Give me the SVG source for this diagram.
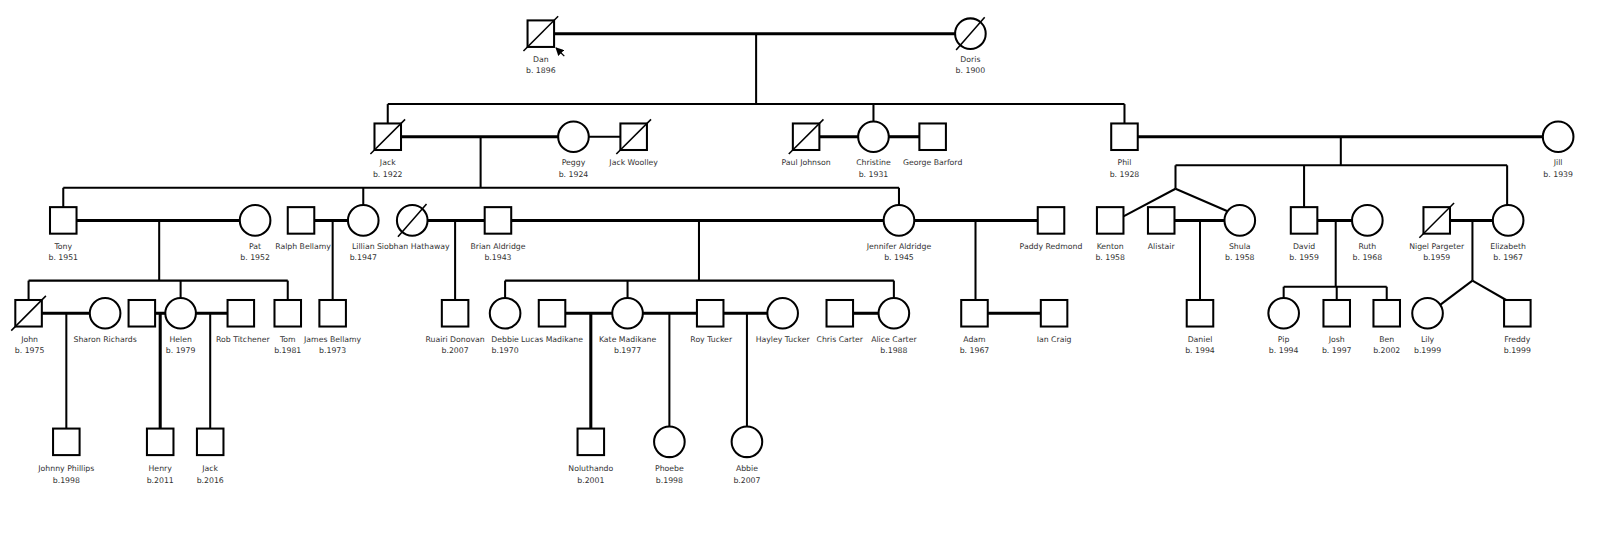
<svg xmlns="http://www.w3.org/2000/svg" width="1600" height="535" viewBox="0 0 1600 535">
<style>
.n rect,.n circle{fill:#fff;stroke:#000;stroke-width:2}
.n line{stroke:#000;stroke-width:1.5}
.n text{font-family:"DejaVu Sans",sans-serif;font-size:7.6px;fill:#333;text-anchor:middle}
#c line,#c polyline{stroke:#000;stroke-width:2;fill:none}
#c .k{stroke-width:3}
</style>
<defs><marker id="ah" markerWidth="8" markerHeight="8" refX="7" refY="4" orient="auto" markerUnits="userSpaceOnUse"><path d="M0,0 L8,4 L0,8 z" fill="#000"/></marker></defs>
<rect width="1600" height="535" fill="#fff"/>
<g transform="scale(1.0204)">
<g id="c">
<line class="k" x1="543" y1="33" x2="936" y2="33"/>
<line x1="741" y1="33" x2="741" y2="102"/>
<line x1="380" y1="102" x2="1102" y2="102"/>
<line x1="380" y1="102" x2="380" y2="121"/>
<line x1="1102" y1="102" x2="1102" y2="121"/>
<line x1="856" y1="102" x2="856" y2="119"/>
<line class="k" x1="393" y1="134" x2="547" y2="134"/>
<line x1="577" y1="134" x2="608" y2="134"/>
<line class="k" x1="803" y1="134" x2="841" y2="134"/>
<line class="k" x1="871" y1="134" x2="901" y2="134"/>
<line class="k" x1="1114" y1="134" x2="1512" y2="134"/>
<line x1="471" y1="134" x2="471" y2="184"/>
<line x1="62" y1="184" x2="881" y2="184"/>
<line x1="62" y1="184" x2="62" y2="203"/>
<line x1="356" y1="184" x2="356" y2="201"/>
<line x1="881" y1="184" x2="881" y2="201"/>
<line x1="1314" y1="134" x2="1314" y2="162"/>
<line x1="1152" y1="162" x2="1477" y2="162"/>
<line x1="1152" y1="162" x2="1152" y2="185"/>
<line x1="1152" y1="185" x2="1101" y2="212"/>
<line x1="1152" y1="185" x2="1203" y2="207"/>
<line x1="1278" y1="162" x2="1278" y2="203"/>
<line x1="1477" y1="162" x2="1477" y2="201"/>
<line class="k" x1="74" y1="216" x2="235" y2="216"/>
<line class="k" x1="308" y1="216" x2="341" y2="216"/>
<line class="k" x1="419" y1="216" x2="475" y2="216"/>
<line class="k" x1="501" y1="216" x2="866" y2="216"/>
<line class="k" x1="896" y1="216" x2="1017" y2="216"/>
<line class="k" x1="1151" y1="216" x2="1200" y2="216"/>
<line class="k" x1="1291" y1="216" x2="1325" y2="216"/>
<line class="k" x1="1421" y1="216" x2="1463" y2="216"/>
<line x1="156" y1="216" x2="156" y2="275"/>
<line x1="28" y1="275" x2="282" y2="275"/>
<line x1="28" y1="275" x2="28" y2="294"/>
<line x1="177" y1="275" x2="177" y2="292"/>
<line x1="282" y1="275" x2="282" y2="294"/>
<line x1="326" y1="216" x2="326" y2="294"/>
<line x1="446" y1="216" x2="446" y2="294"/>
<line x1="685" y1="216" x2="685" y2="275"/>
<line x1="495" y1="275" x2="876" y2="275"/>
<line x1="495" y1="275" x2="495" y2="292"/>
<line x1="615" y1="275" x2="615" y2="292"/>
<line x1="876" y1="275" x2="876" y2="292"/>
<line x1="956" y1="216" x2="956" y2="294"/>
<line x1="1176" y1="216" x2="1176" y2="294"/>
<line x1="1309" y1="216" x2="1309" y2="281"/>
<line x1="1258" y1="281" x2="1359" y2="281"/>
<line x1="1258" y1="281" x2="1258" y2="292"/>
<line x1="1310" y1="281" x2="1310" y2="294"/>
<line x1="1359" y1="281" x2="1359" y2="294"/>
<line x1="1443" y1="216" x2="1443" y2="275"/>
<line x1="1443" y1="275" x2="1411" y2="299"/>
<line x1="1443" y1="275" x2="1476" y2="294"/>
<line class="k" x1="41" y1="307" x2="88" y2="307"/>
<line class="k" x1="152" y1="307" x2="162" y2="307"/>
<line class="k" x1="192" y1="307" x2="223" y2="307"/>
<line class="k" x1="554" y1="307" x2="600" y2="307"/>
<line class="k" x1="630" y1="307" x2="683" y2="307"/>
<line class="k" x1="709" y1="307" x2="752" y2="307"/>
<line class="k" x1="836" y1="307" x2="861" y2="307"/>
<line class="k" x1="968" y1="307" x2="1020" y2="307"/>
<line x1="65" y1="307" x2="65" y2="420"/>
<line class="k" x1="157" y1="307" x2="157" y2="420"/>
<line x1="206" y1="307" x2="206" y2="420"/>
<line class="k" x1="579" y1="307" x2="579" y2="420"/>
<line x1="656" y1="307" x2="656" y2="418"/>
<line x1="732" y1="307" x2="732" y2="418"/>
<line x1="553" y1="55" x2="545" y2="47" style="stroke-width:1.3" marker-end="url(#ah)"/>
</g>
<g id="dan" class="n"><rect x="517" y="20" width="26" height="26"/><line x1="513" y1="50" x2="547" y2="16"/><text x="530" y="61">Dan</text><text x="530" y="72">b. 1896</text></g>
<g id="doris" class="n"><circle cx="951" cy="33" r="15"/><line x1="937" y1="49" x2="965" y2="17"/><text x="951" y="61">Doris</text><text x="951" y="72">b. 1900</text></g>
<g id="jack1922" class="n"><rect x="367" y="121" width="26" height="26"/><line x1="363" y1="151" x2="397" y2="117"/><text x="380" y="162">Jack</text><text x="380" y="173">b. 1922</text></g>
<g id="peggy" class="n"><circle cx="562" cy="134" r="15"/><text x="562" y="162">Peggy</text><text x="562" y="173">b. 1924</text></g>
<g id="jackwoolley" class="n"><rect x="608" y="121" width="26" height="26"/><line x1="604" y1="151" x2="638" y2="117"/><text x="621" y="162">Jack Woolley</text></g>
<g id="pauljohnson" class="n"><rect x="777" y="121" width="26" height="26"/><line x1="773" y1="151" x2="807" y2="117"/><text x="790" y="162">Paul Johnson</text></g>
<g id="christine" class="n"><circle cx="856" cy="134" r="15"/><text x="856" y="162">Christine</text><text x="856" y="173">b. 1931</text></g>
<g id="georgebarford" class="n"><rect x="901" y="121" width="26" height="26"/><text x="914" y="162">George Barford</text></g>
<g id="phil" class="n"><rect x="1089" y="121" width="26" height="26"/><text x="1102" y="162">Phil</text><text x="1102" y="173">b. 1928</text></g>
<g id="jill" class="n"><circle cx="1527" cy="134" r="15"/><text x="1527" y="162">Jill</text><text x="1527" y="173">b. 1939</text></g>
<g id="tony" class="n"><rect x="49" y="203" width="26" height="26"/><text x="62" y="244">Tony</text><text x="62" y="255">b. 1951</text></g>
<g id="pat" class="n"><circle cx="250" cy="216" r="15"/><text x="250" y="244">Pat</text><text x="250" y="255">b. 1952</text></g>
<g id="ralph" class="n"><rect x="282" y="203" width="26" height="26"/><text x="297" y="244">Ralph Bellamy</text></g>
<g id="lillian" class="n"><circle cx="356" cy="216" r="15"/><text x="356" y="244">Lillian</text><text x="356" y="255">b.1947</text></g>
<g id="siobhan" class="n"><circle cx="404" cy="216" r="15"/><line x1="390" y1="232" x2="418" y2="200"/><text x="405" y="244">Siobhan Hathaway</text></g>
<g id="brian" class="n"><rect x="475" y="203" width="26" height="26"/><text x="488" y="244">Brian Aldridge</text><text x="488" y="255">b.1943</text></g>
<g id="jennifer" class="n"><circle cx="881" cy="216" r="15"/><text x="881" y="244">Jennifer Aldridge</text><text x="881" y="255">b. 1945</text></g>
<g id="paddy" class="n"><rect x="1017" y="203" width="26" height="26"/><text x="1030" y="244">Paddy Redmond</text></g>
<g id="kenton" class="n"><rect x="1075" y="203" width="26" height="26"/><text x="1088" y="244">Kenton</text><text x="1088" y="255">b. 1958</text></g>
<g id="alistair" class="n"><rect x="1125" y="203" width="26" height="26"/><text x="1138" y="244">Alistair</text></g>
<g id="shula" class="n"><circle cx="1215" cy="216" r="15"/><text x="1215" y="244">Shula</text><text x="1215" y="255">b. 1958</text></g>
<g id="david" class="n"><rect x="1265" y="203" width="26" height="26"/><text x="1278" y="244">David</text><text x="1278" y="255">b. 1959</text></g>
<g id="ruth" class="n"><circle cx="1340" cy="216" r="15"/><text x="1340" y="244">Ruth</text><text x="1340" y="255">b. 1968</text></g>
<g id="nigel" class="n"><rect x="1395" y="203" width="26" height="26"/><line x1="1391" y1="233" x2="1425" y2="199"/><text x="1408" y="244">Nigel Pargeter</text><text x="1408" y="255">b.1959</text></g>
<g id="elizabeth" class="n"><circle cx="1478" cy="216" r="15"/><text x="1478" y="244">Elizabeth</text><text x="1478" y="255">b. 1967</text></g>
<g id="john" class="n"><rect x="15" y="294" width="26" height="26"/><line x1="11" y1="324" x2="45" y2="290"/><text x="29" y="335">John</text><text x="29" y="346">b. 1975</text></g>
<g id="sharon" class="n"><circle cx="103" cy="307" r="15"/><text x="103" y="335">Sharon Richards</text></g>
<g id="helenpartner" class="n"><rect x="126" y="294" width="26" height="26"/></g>
<g id="helen" class="n"><circle cx="177" cy="307" r="15"/><text x="177" y="335">Helen</text><text x="177" y="346">b. 1979</text></g>
<g id="rob" class="n"><rect x="223" y="294" width="26" height="26"/><text x="238" y="335">Rob Titchener</text></g>
<g id="tom" class="n"><rect x="269" y="294" width="26" height="26"/><text x="282" y="335">Tom</text><text x="282" y="346">b.1981</text></g>
<g id="james" class="n"><rect x="313" y="294" width="26" height="26"/><text x="326" y="335">James Bellamy</text><text x="326" y="346">b.1973</text></g>
<g id="ruairi" class="n"><rect x="433" y="294" width="26" height="26"/><text x="446" y="335">Ruairi Donovan</text><text x="446" y="346">b.2007</text></g>
<g id="debbie" class="n"><circle cx="495" cy="307" r="15"/><text x="495" y="335">Debbie</text><text x="495" y="346">b.1970</text></g>
<g id="lucas" class="n"><rect x="528" y="294" width="26" height="26"/><text x="541" y="335">Lucas Madikane</text></g>
<g id="kate" class="n"><circle cx="615" cy="307" r="15"/><text x="615" y="335">Kate Madikane</text><text x="615" y="346">b.1977</text></g>
<g id="roy" class="n"><rect x="683" y="294" width="26" height="26"/><text x="697" y="335">Roy Tucker</text></g>
<g id="hayley" class="n"><circle cx="767" cy="307" r="15"/><text x="767" y="335">Hayley Tucker</text></g>
<g id="chris" class="n"><rect x="810" y="294" width="26" height="26"/><text x="823" y="335">Chris Carter</text></g>
<g id="alice" class="n"><circle cx="876" cy="307" r="15"/><text x="876" y="335">Alice Carter</text><text x="876" y="346">b.1988</text></g>
<g id="adam" class="n"><rect x="942" y="294" width="26" height="26"/><text x="955" y="335">Adam</text><text x="955" y="346">b. 1967</text></g>
<g id="ian" class="n"><rect x="1020" y="294" width="26" height="26"/><text x="1033" y="335">Ian Craig</text></g>
<g id="daniel" class="n"><rect x="1163" y="294" width="26" height="26"/><text x="1176" y="335">Daniel</text><text x="1176" y="346">b. 1994</text></g>
<g id="pip" class="n"><circle cx="1258" cy="307" r="15"/><text x="1258" y="335">Pip</text><text x="1258" y="346">b. 1994</text></g>
<g id="josh" class="n"><rect x="1297" y="294" width="26" height="26"/><text x="1310" y="335">Josh</text><text x="1310" y="346">b. 1997</text></g>
<g id="ben" class="n"><rect x="1346" y="294" width="26" height="26"/><text x="1359" y="335">Ben</text><text x="1359" y="346">b.2002</text></g>
<g id="lily" class="n"><circle cx="1399" cy="307" r="15"/><text x="1399" y="335">Lily</text><text x="1399" y="346">b.1999</text></g>
<g id="freddy" class="n"><rect x="1474" y="294" width="26" height="26"/><text x="1487" y="335">Freddy</text><text x="1487" y="346">b.1999</text></g>
<g id="johnny" class="n"><rect x="52" y="420" width="26" height="26"/><text x="65" y="462">Johnny Phillips</text><text x="65" y="473">b.1998</text></g>
<g id="henry" class="n"><rect x="144" y="420" width="26" height="26"/><text x="157" y="462">Henry</text><text x="157" y="473">b.2011</text></g>
<g id="jack2016" class="n"><rect x="193" y="420" width="26" height="26"/><text x="206" y="462">Jack</text><text x="206" y="473">b.2016</text></g>
<g id="noluthando" class="n"><rect x="566" y="420" width="26" height="26"/><text x="579" y="462">Noluthando</text><text x="579" y="473">b.2001</text></g>
<g id="phoebe" class="n"><circle cx="656" cy="433" r="15"/><text x="656" y="462">Phoebe</text><text x="656" y="473">b.1998</text></g>
<g id="abbie" class="n"><circle cx="732" cy="433" r="15"/><text x="732" y="462">Abbie</text><text x="732" y="473">b.2007</text></g>
</g>
</svg>
